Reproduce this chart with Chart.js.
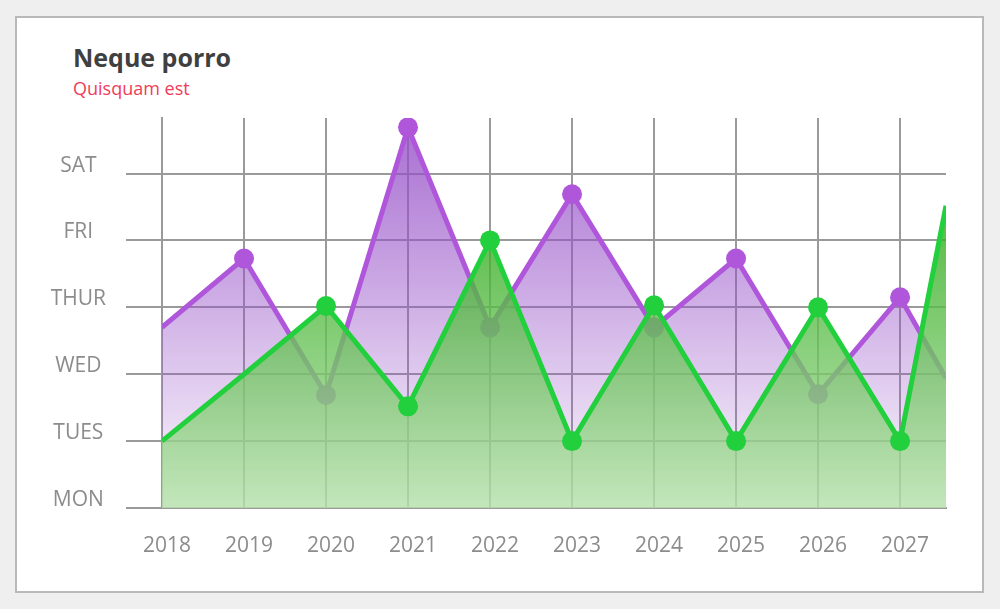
<!DOCTYPE html>
<html>
<head>
<meta charset="utf-8">
<script src="https://cdn.jsdelivr.net/npm/chart.js@4/dist/chart.umd.min.js"></script>
<style>
  html, body { margin: 0; padding: 0; width: 1000px; height: 609px; background: #efefef; overflow: hidden; }
  #frame { position: absolute; left: 15px; top: 16px; width: 969px; height: 577px; box-sizing: border-box;
           border: 2px solid #b9b9b9; background: #ffffff; }
  #title { position: absolute; left: 73px; top: 45px; font: bold 25px/25px "Open Sans", sans-serif; color: #404040; white-space: nowrap; }
  #subtitle { position: absolute; left: 73px; top: 79px; font: 18px/18px "Open Sans", sans-serif; color: #f03c5a; white-space: nowrap; }
  #c { position: absolute; left: 0; top: 0; }
</style>
</head>
<body>
<div id="frame"></div>
<div id="title">Neque porro</div>
<div id="subtitle">Quisquam est</div>
<canvas id="c" width="1000" height="609"></canvas>
<script>
// ---- data ----
const years = [2018, 2019, 2020, 2021, 2022, 2023, 2024, 2025, 2026, 2027];
const tailX = 2027.56;               // series run on past the last year to the plot edge
const days = ['MON', 'TUES', 'WED', 'THUR', 'FRI', 'SAT'];
const purpleValues = [2.70, 3.73, 1.69, 5.69, 2.70, 4.69, 2.70, 3.73, 1.70, 3.15];
const purpleTail = 1.94;
const greenValues = [1.00, 2.00, 3.02, 1.52, 4.00, 1.00, 3.03, 1.00, 3.00, 1.00];
const greenTail = 4.52;
const purpleMarkers = [0, 10, 10, 10, 10, 10, 10, 10, 10, 10];
const greenMarkers = [0, 0, 10, 10, 10, 10, 10, 10, 10, 10];

const xs = years.concat([tailX]);
const purpleData = xs.map((x, i) => ({ x, y: i < years.length ? purpleValues[i] : purpleTail }));
const greenData = xs.map((x, i) => ({ x, y: i < years.length ? greenValues[i] : greenTail }));

function purpleFill(ctx) {
  const a = ctx.chart.chartArea;
  if (!a) return 'rgba(150,80,200,0.4)';
  const g = ctx.chart.ctx.createLinearGradient(0, a.top, 0, a.bottom);
  g.addColorStop(0, 'rgba(150,80,200,0.84)');
  g.addColorStop(1, 'rgba(150,80,200,0.03)');
  return g;
}
function greenFill(ctx) {
  const a = ctx.chart.chartArea;
  if (!a) return 'rgba(90,190,70,0.8)';
  const g = ctx.chart.ctx.createLinearGradient(0, a.top, 0, a.bottom);
  g.addColorStop(0, 'rgba(45,165,25,0.82)');
  g.addColorStop(0.31, 'rgba(58,175,38,0.8)');
  g.addColorStop(1, 'rgba(181,226,170,0.8)');
  return g;
}

const gridColor = '#9a9a9a';
const labelFont = { family: '"Open Sans", sans-serif', size: 21 };

new Chart(document.getElementById('c'), {
  type: 'line',
  data: {
    datasets: [
      {
        label: 'green',
        data: greenData,
        order: 0,
        borderColor: '#22cf3c',
        borderWidth: 5,
        backgroundColor: greenFill,
        fill: 'origin',
        tension: 0,
        pointRadius: greenMarkers.concat([0]),
        pointBackgroundColor: '#22cf3c',
        pointBorderWidth: 0,
        pointHoverRadius: 0
      },
      {
        label: 'purple',
        data: purpleData,
        order: 1,
        borderColor: '#b056da',
        borderWidth: 5,
        backgroundColor: purpleFill,
        fill: 'origin',
        tension: 0,
        pointRadius: purpleMarkers.concat([0]),
        pointBackgroundColor: '#b056da',
        pointBorderWidth: 0,
        pointHoverRadius: 0
      }
    ]
  },
  options: {
    responsive: false,
    animation: false,
    events: [],
    layout: { padding: { left: 0, top: 118, right: 54, bottom: 0 } },
    plugins: { legend: { display: false }, tooltip: { enabled: false } },
    scales: {
      x: {
        type: 'linear',
        min: years[0],
        max: tailX,
        afterBuildTicks: (s) => { s.ticks = years.map(v => ({ value: v })); },
        afterFit: (s) => { s.height = 101; },
        grid: { color: gridColor, lineWidth: 2, drawTicks: false },
        border: { color: gridColor, width: 2 },
        ticks: {
          font: labelFont, color: '#8c8c8c', padding: 25, labelOffset: 5,
          maxRotation: 0, autoSkip: false,
          callback: (v) => String(v)
        }
      },
      y: {
        type: 'linear',
        min: 0,
        max: 5.83,
        afterBuildTicks: (s) => { s.ticks = days.map((d, i) => ({ value: i })); },
        afterFit: (s) => { s.width = 162; },
        grid: { color: gridColor, lineWidth: 2, tickLength: 36, tickColor: gridColor },
        border: { color: gridColor, width: 2 },
        ticks: {
          font: labelFont, color: '#8c8c8c', padding: 20, crossAlign: 'center', labelOffset: -8,
          autoSkip: false,
          callback: (v) => days[v] !== undefined ? days[v] : ''
        }
      }
    }
  }
});
</script>
</body>
</html>
